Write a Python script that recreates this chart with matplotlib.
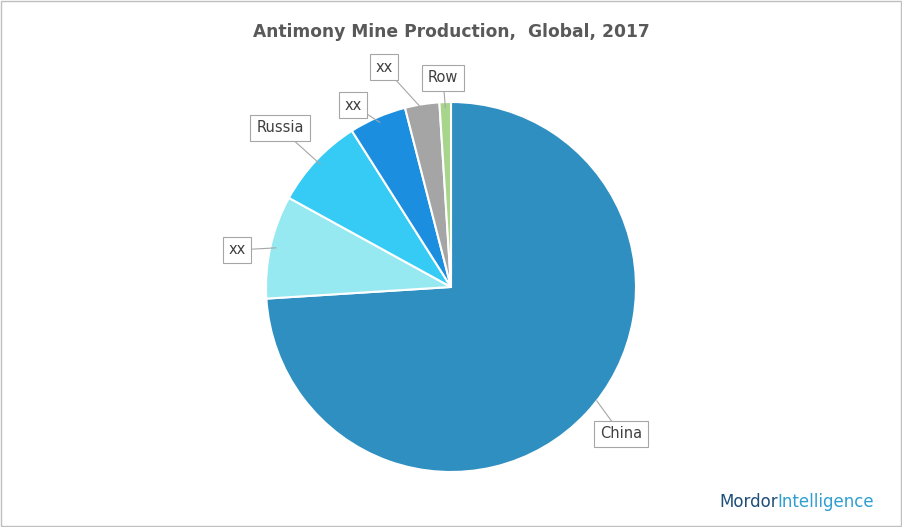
import matplotlib
matplotlib.use("Agg")
import matplotlib.pyplot as plt
import numpy as np

labels = ["China", "xx", "Russia", "xx", "xx", "Row"]
values = [74, 9, 8, 5, 3, 1]
colors = ["#2E8FC0", "#96E9F0", "#35CBF5", "#1B8EE0", "#A5A5A5", "#A8D58C"]
label_pos = [(621, 93), (237, 277), (280, 399), (353, 422), (384, 460), (443, 449)]

fig = plt.figure(figsize=(9.02, 5.27), dpi=100)
ax = fig.add_axes([0, 0, 1, 1])
cx, cy, r = 451, 240, 185
wedges, _ = ax.pie(values, colors=colors, startangle=90, counterclock=False,
                   center=(cx, cy), radius=r, frame=True,
                   wedgeprops=dict(edgecolor="white", linewidth=1.5))
ax.set_xlim(0, 902); ax.set_ylim(0, 527); ax.set_aspect("equal"); ax.axis("off")
for w, lab, (lx, ly) in zip(wedges, labels, label_pos):
    a = np.deg2rad((w.theta1 + w.theta2) / 2)
    px, py = cx + r * 0.97 * np.cos(a), cy + r * 0.97 * np.sin(a)
    if lab == "China":
        px, py = cx + r * np.cos(np.deg2rad(-38)), cy + r * np.sin(np.deg2rad(-38))
    ax.plot([px, lx], [py, ly], color="#A6A6A6", lw=0.8, zorder=1)
    ax.text(lx, ly, lab, ha="center", va="center", fontsize=10.5, color="#404040",
            bbox=dict(boxstyle="square,pad=0.4", fc="white", ec="#A6A6A6", lw=0.8), zorder=5)
fig.text(0.5, 0.94, "Antimony Mine Production,  Global, 2017", ha="center", va="center",
         fontsize=12.3, fontweight="bold", color="#595959")
fig.text(0.862, 0.048, "Mordor", ha="right", va="center", fontsize=12, color="#1F4E79")
fig.text(0.862, 0.048, "Intelligence", ha="left", va="center", fontsize=12, color="#2E9FD0")
ax.add_patch(plt.Rectangle((1, 1), 900, 525, fill=False, ec="#BFBFBF", lw=1, zorder=10))
fig.savefig("out.png", dpi=100)
